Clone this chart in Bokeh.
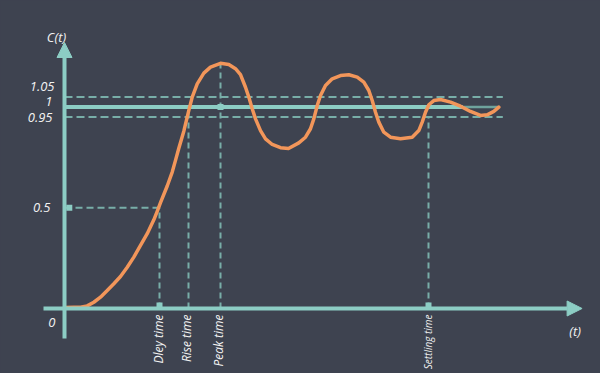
import math
from bokeh.plotting import figure
from bokeh.models import Range1d, Arrow, NormalHead, ColumnDataSource
from bokeh.core.properties import value
from bokeh.embed import file_html
from bokeh.resources import INLINE

# ---- data ----
t_curve = [0.0, 0.233, 0.40, 0.568, 0.733, 0.90, 1.068, 1.233, 1.40, 1.568, 1.733, 1.90,
           2.068, 2.233, 2.318, 2.40, 2.568, 2.693, 2.775, 2.858, 2.983, 3.108, 3.193, 3.318,
           3.483, 3.65, 3.90, 4.108, 4.275, 4.40, 4.525, 4.608, 4.693, 4.775, 4.90, 5.025,
           5.193, 5.40, 5.60, 5.858, 6.025, 6.15, 6.233, 6.318, 6.40, 6.525, 6.693, 6.90,
           7.108, 7.318, 7.483, 7.608, 7.693, 7.775, 7.858, 7.983, 8.15, 8.40, 8.693, 8.858,
           8.943, 9.025, 9.108, 9.233, 9.40, 9.65, 9.90, 10.15, 10.40, 10.568, 10.733, 10.858]
c_curve = [0.005, 0.006, 0.006, 0.013, 0.031, 0.056, 0.089, 0.123, 0.159, 0.205, 0.255, 0.313,
           0.371, 0.440, 0.482, 0.525, 0.608, 0.677, 0.735, 0.795, 0.880, 0.983, 1.049, 1.115,
           1.168, 1.198, 1.217, 1.211, 1.190, 1.161, 1.098, 1.049, 0.991, 0.941, 0.883, 0.842,
           0.814, 0.798, 0.794, 0.822, 0.850, 0.892, 0.941, 1.007, 1.057, 1.107, 1.140, 1.156,
           1.160, 1.148, 1.123, 1.082, 1.032, 0.974, 0.925, 0.875, 0.850, 0.842, 0.850, 0.883,
           0.925, 0.974, 1.011, 1.032, 1.037, 1.024, 1.004, 0.978, 0.958, 0.961, 0.978, 0.999]

time_labels = ["Dley time", "Rise time", "Peak time", "Settling time"]
time_values = [2.375, 3.1, 3.9, 9.1]
time_levels = [0.5, 1.0, 1.217, 0.95]

y_tick_labels = ["1.05", "1", "0.95", "0.5", "0"]
y_tick_values = [1.05, 1.0, 0.95, 0.5, 0.0]

band_upper = 1.05
band_lower = 0.95
final_value = 1.0

# ---- styles ----
BG = "#3e4350"
TEAL = "#8ccdc4"
DASH = "#78aea8"
ORANGE = "#f2965a"
WHITE = "#f2f2f2"
FONT = value("Open Sans")

t_end = t_curve[-1]

p = figure(width=600, height=373, x_range=Range1d(-1.6, 13.4), y_range=Range1d(-0.3226, 1.5285),
           output_backend="svg", toolbar_location=None, x_axis_location=None, y_axis_location=None,
           min_border=0, background_fill_color=BG, border_fill_color=BG, outline_line_color=None)
p.grid.visible = False

# band dashed lines
for b in (band_upper, band_lower):
    p.line([0, t_end + 0.1], [b, b], line_color=DASH, line_width=2, line_dash="8 4")

# horizontal dashed at 0.5 to delay time
p.line([0, time_values[0]], [time_levels[0], time_levels[0]], line_color=DASH, line_width=2, line_dash="7 4")

# vertical dashed lines
for tv, lv in zip(time_values, time_levels):
    p.line([tv, tv], [0, lv], line_color=DASH, line_width=2, line_dash="6 4")

# final value line
p.line([0, t_end - 0.9], [final_value, final_value], line_color=TEAL, line_width=4)
p.line([t_end - 0.9, t_end], [final_value, final_value], line_color="#6fa39d", line_width=2.5)

# axes with arrows
p.add_layout(Arrow(end=NormalHead(size=15, fill_color=TEAL, line_color=TEAL, line_width=1),
                   x_start=0, y_start=-0.149, x_end=0, y_end=1.32,
                   line_color=TEAL, line_width=4))
p.add_layout(Arrow(end=NormalHead(size=15, fill_color=TEAL, line_color=TEAL, line_width=1),
                   x_start=-0.525, y_start=0, x_end=12.94, y_end=0,
                   line_color=TEAL, line_width=4))

# small square markers
p.scatter([0.12, time_values[0], time_values[2], time_values[3]],
          [time_levels[0], 0.015, final_value, 0.015],
          marker="square", size=6, fill_color=TEAL, line_color=None)

# response curve
p.line(t_curve, c_curve, line_color=ORANGE, line_width=3.5, line_join="round", line_cap="round")

# y tick labels
y_dx = [-10, -12, -12, -14, -9]
y_dy = [-10, -5, 0, 0, 14]
p.text(x=[0] * len(y_tick_values), y=y_tick_values, text=y_tick_labels,
       x_offset=y_dx, y_offset=y_dy, text_align="right", text_baseline="middle",
       text_font=FONT, text_font_style="italic", text_font_size="13px", text_color=WHITE)

# axis titles
p.text(x=[0], y=[1.32], text=["C(t)"], x_offset=-8, y_offset=-6, text_align="center",
       text_baseline="middle", text_font=FONT, text_font_style="italic",
       text_font_size="13px", text_color=WHITE)
p.text(x=[12.94], y=[0], text=["(t)"], x_offset=-7, y_offset=23, text_align="center",
       text_baseline="middle", text_font=FONT, text_font_style="italic",
       text_font_size="13px", text_color=WHITE)

# rotated time labels
src = ColumnDataSource(dict(x=time_values, y=[0] * 4, t=time_labels,
                            fs=["12px", "12px", "12px", "10px"], dx=[-1, -2, -2, -1]))
p.text(x="x", y="y", text="t", source=src, angle=math.pi / 2, x_offset="dx", y_offset=6,
       text_align="right", text_baseline="middle", text_font=FONT, text_font_style="italic",
       text_font_size="fs", text_color=WHITE)

html = file_html(p, INLINE)
html = html.replace("<head>", "<head><style>html,body{background:%s}</style>" % BG, 1)
open("out.html", "w").write(html)
